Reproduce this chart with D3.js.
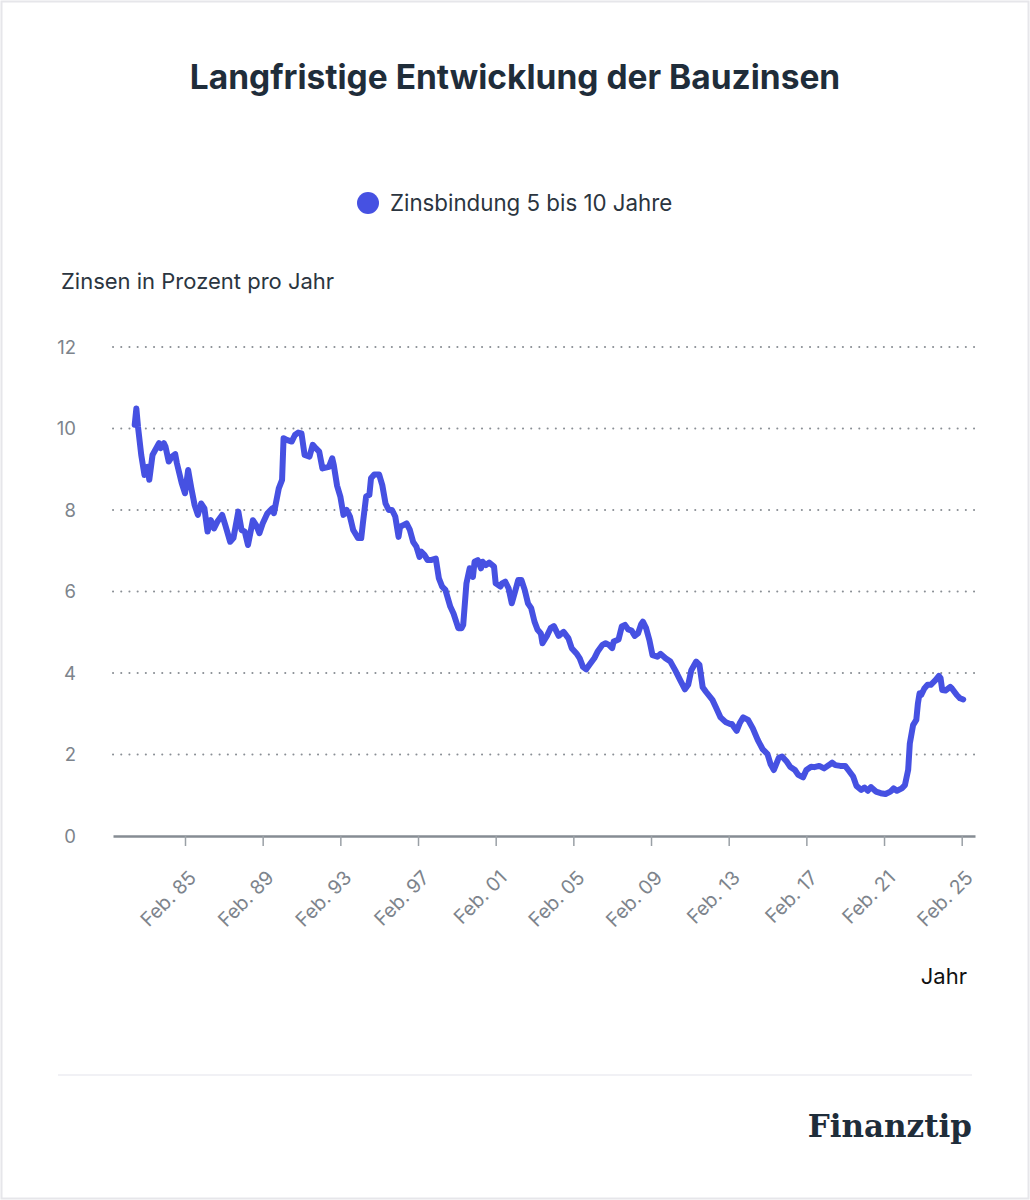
<!DOCTYPE html>
<html>
<head>
<meta charset="utf-8">
<script src="https://cdn.jsdelivr.net/npm/d3@7"></script>
<style>
  html, body { margin: 0; padding: 0; background: #ffffff; }
  svg { display: block; }
</style>
</head>
<body>
<svg id="chart" width="1030" height="1200"></svg>
<script>
const title = "Langfristige Entwicklung der Bauzinsen";
const seriesName = "Zinsbindung 5 bis 10 Jahre";
const yAxisTitle = "Zinsen in Prozent pro Jahr";
const xAxisTitle = "Jahr";
const brand = "Finanztip";

const yTicks = [0, 2, 4, 6, 8, 10, 12];
const xTickYears = [1985, 1989, 1993, 1997, 2001, 2005, 2009, 2013, 2017, 2021, 2025];

const months = [
"1982-07","1982-08","1982-09","1982-11","1983-01","1983-03","1983-04","1983-06","1983-10","1983-11",
"1984-01","1984-02","1984-04","1984-06","1984-08","1984-09","1984-12","1985-02","1985-04","1985-06",
"1985-08","1985-10","1985-12","1986-02","1986-04","1986-06","1986-08","1986-10","1987-01","1987-03",
"1987-06","1987-08","1987-11","1988-01","1988-03","1988-05","1988-08","1988-10","1988-12","1989-02",
"1989-05","1989-08","1989-09","1989-12","1990-02","1990-03","1990-05","1990-08","1990-10","1990-12",
"1991-02","1991-04","1991-07","1991-09","1991-11","1992-01","1992-03","1992-07","1992-09","1992-10",
"1992-12","1993-02","1993-04","1993-06","1993-08","1993-10","1994-01","1994-03","1994-04","1994-06",
"1994-08","1994-09","1994-11","1995-02","1995-04","1995-06","1995-08","1995-10","1995-12","1996-02",
"1996-03","1996-05","1996-07","1996-09","1996-11","1997-01","1997-03","1997-04","1997-06","1997-08",
"1997-10","1998-01","1998-03","1998-05","1998-07","1998-10","1998-12","1999-03","1999-05","1999-06",
"1999-08","1999-10","1999-12","2000-01","2000-03","2000-05","2000-06","2000-08","2000-10","2001-01",
"2001-02","2001-05","2001-06","2001-08","2001-10","2001-12","2002-02","2002-04","2002-06","2002-08",
"2002-10","2002-12","2003-02","2003-04","2003-06","2003-07","2003-10","2003-12","2004-02","2004-05",
"2004-08","2004-11","2005-01","2005-04","2005-06","2005-08","2005-10","2005-12","2006-03","2006-05",
"2006-08","2006-10","2006-12","2007-02","2007-03","2007-06","2007-08","2007-10","2007-12","2008-02",
"2008-04","2008-06","2008-08","2008-09","2008-11","2009-01","2009-03","2009-06","2009-08","2009-11",
"2010-02","2010-05","2010-08","2010-11","2011-01","2011-03","2011-06","2011-08","2011-10","2011-12",
"2012-04","2012-06","2012-09","2012-12","2013-03","2013-04","2013-07","2013-09","2013-11","2014-02",
"2014-05","2014-08","2014-11","2015-02","2015-04","2015-06","2015-09","2015-11","2016-02","2016-04",
"2016-07","2016-09","2016-12","2017-02","2017-05","2017-07","2017-10","2018-01","2018-04","2018-06",
"2018-08","2018-11","2019-02","2019-04","2019-07","2019-09","2019-12","2020-02","2020-04","2020-06",
"2020-09","2020-12","2021-03","2021-06","2021-08","2021-10","2022-01","2022-03","2022-05","2022-06",
"2022-08","2022-10","2022-11","2022-12","2023-01","2023-03","2023-05","2023-07","2023-10","2023-12",
"2024-01","2024-02","2024-04","2024-07","2024-08","2024-11","2025-01","2025-03"
];

const rates = [
10.09,10.49,10.04,9.35,8.86,9.06,8.74,9.35,9.64,9.52,
9.64,9.55,9.19,9.31,9.37,9.15,8.66,8.41,8.98,8.53,
8.12,7.88,8.16,8.04,7.47,7.75,7.55,7.71,7.88,7.63,
7.22,7.31,7.96,7.51,7.47,7.14,7.75,7.63,7.43,7.67,
7.92,8.04,7.92,8.53,8.74,9.76,9.72,9.68,9.84,9.90,
9.88,9.35,9.31,9.60,9.51,9.43,9.02,9.06,9.27,9.10,
8.60,8.33,7.88,8.00,7.84,7.51,7.31,7.31,7.67,8.33,
8.37,8.78,8.87,8.87,8.61,8.16,8.00,8.00,7.84,7.34,
7.59,7.63,7.67,7.51,7.22,7.10,6.85,6.98,6.90,6.77,
6.77,6.81,6.32,6.12,6.04,5.63,5.46,5.10,5.10,5.18,
6.20,6.57,6.36,6.73,6.77,6.57,6.73,6.65,6.71,6.61,
6.20,6.12,6.20,6.24,6.08,5.71,6.00,6.28,6.28,6.04,
5.71,5.59,5.26,5.06,4.97,4.73,4.93,5.10,5.15,4.91,
5.01,4.85,4.61,4.48,4.36,4.15,4.09,4.20,4.36,4.52,
4.69,4.73,4.69,4.61,4.77,4.82,5.14,5.18,5.07,5.04,
4.91,4.97,5.20,5.26,5.10,4.81,4.44,4.40,4.47,4.36,
4.28,4.07,3.83,3.60,3.71,4.07,4.28,4.20,3.65,3.54,
3.34,3.17,2.91,2.80,2.75,2.75,2.58,2.78,2.91,2.85,
2.64,2.36,2.13,2.01,1.76,1.62,1.92,1.95,1.82,1.70,
1.62,1.50,1.44,1.62,1.70,1.69,1.72,1.66,1.74,1.80,
1.74,1.72,1.72,1.62,1.46,1.23,1.13,1.19,1.11,1.20,
1.09,1.05,1.03,1.09,1.17,1.11,1.17,1.25,1.62,2.27,
2.72,2.85,3.26,3.50,3.46,3.62,3.71,3.71,3.83,3.93,
3.87,3.58,3.57,3.66,3.62,3.46,3.38,3.35
];

const parseMonth = d3.timeParse("%Y-%m");
const data = months.map((m, i) => ({ date: parseMonth(m), value: rates[i] }));

const svg = d3.select("#chart");
const W = 1030, H = 1200;

// outer frame
svg.append("rect")
  .attr("x", 1.5).attr("y", 1.5)
  .attr("width", W - 3).attr("height", H - 3)
  .attr("fill", "#ffffff")
  .attr("stroke", "#e6e6ea").attr("stroke-width", 2);

const textColor = "#1f2d3a";
const axisGray = "#7d848c";
const lineColor = "#4651e2";

// title
svg.append("text")
  .attr("x", W / 2).attr("y", 89)
  .attr("text-anchor", "middle")
  .attr("font-family", "Inter, 'Open Sans', sans-serif")
  .attr("font-weight", 700)
  .attr("font-size", 33.5)
  .attr("fill", textColor)
  .text(title);

// legend
svg.append("circle")
  .attr("cx", 368).attr("cy", 203).attr("r", 11)
  .attr("fill", lineColor);
svg.append("text")
  .attr("x", 390).attr("y", 211)
  .attr("font-family", "Inter, sans-serif")
  .attr("font-size", 22.3)
  .attr("fill", "#2b3540")
  .text(seriesName);

// y-axis title
svg.append("text")
  .attr("x", 61).attr("y", 289)
  .attr("font-family", "Inter, sans-serif")
  .attr("font-size", 22)
  .attr("fill", "#2b3540")
  .text(yAxisTitle);

const x0 = 113, x1 = 975, yTop = 347, yBot = 836;
// calibrate so that Feb 1985 -> 185 and Feb 2025 -> ~962
const calib = d3.scaleTime()
  .domain([new Date(1985, 1, 1), new Date(2025, 1, 1)])
  .range([185, 961.7]);
const xs = d3.scaleTime()
  .domain([calib.invert(x0), calib.invert(x1)])
  .range([x0, x1]);

const y = d3.scaleLinear().domain([0, 12]).range([yBot, yTop]);

// gridlines
const grid = svg.append("g");
grid.selectAll("line")
  .data(yTicks.filter(t => t > 0))
  .join("line")
  .attr("x1", x0).attr("x2", x1)
  .attr("y1", d => y(d)).attr("y2", d => y(d))
  .attr("stroke", "#8a8f95")
  .attr("stroke-width", 2)
  .attr("stroke-linecap", "round")
  .attr("stroke-dasharray", "0.1,8.1");

// y axis labels
const yAxis = d3.axisLeft(y).tickValues(yTicks).tickSize(0).tickPadding(0);
const gy = svg.append("g").attr("transform", `translate(76,0)`).call(yAxis);
gy.select(".domain").remove();
gy.selectAll("text")
  .attr("font-family", "Inter, sans-serif")
  .attr("font-size", 18.5)
  .attr("fill", axisGray)
  .attr("dy", "0.35em");

// x axis
const xAxis = d3.axisBottom(xs)
  .tickValues(xTickYears.map(yy => new Date(yy, 1, 1)))
  .tickSize(10)
  .tickSizeOuter(0)
  .tickFormat(d => "Feb. " + d3.timeFormat("%y")(d));
const gx = svg.append("g").attr("transform", `translate(0,${yBot})`).call(xAxis);
gx.select(".domain")
  .attr("stroke", "#868c93")
  .attr("stroke-width", 2.5);
gx.selectAll(".tick line")
  .attr("stroke", "#9aa0a6")
  .attr("stroke-width", 1.5);
gx.selectAll(".tick text")
  .attr("font-family", "Inter, sans-serif")
  .attr("font-size", 19.5)
  .attr("fill", axisGray)
  .attr("text-anchor", "end")
  .attr("dy", 0)
  .attr("transform", "translate(12,43) rotate(-45)")
  .attr("y", 0).attr("x", 0);

// x axis title
svg.append("text")
  .attr("x", 967).attr("y", 984)
  .attr("text-anchor", "end")
  .attr("font-family", "Inter, sans-serif")
  .attr("font-size", 22)
  .attr("fill", "#111111")
  .text(xAxisTitle);

// line
const line = d3.line()
  .x(d => xs(d.date))
  .y(d => y(d.value))
  .curve(d3.curveLinear);
svg.append("path")
  .datum(data)
  .attr("d", line)
  .attr("fill", "none")
  .attr("stroke", lineColor)
  .attr("stroke-width", 6)
  .attr("stroke-linejoin", "round")
  .attr("stroke-linecap", "round");

// footer separator
svg.append("line")
  .attr("x1", 58).attr("x2", 972)
  .attr("y1", 1075).attr("y2", 1075)
  .attr("stroke", "#ececf2").attr("stroke-width", 1.5);

// brand
svg.append("text")
  .attr("x", 972).attr("y", 1137)
  .attr("text-anchor", "end")
  .attr("font-family", "'DejaVu Serif', serif")
  .attr("font-weight", 700)
  .attr("font-size", 31)
  .attr("fill", textColor)
  .text(brand);
</script>
</body>
</html>
